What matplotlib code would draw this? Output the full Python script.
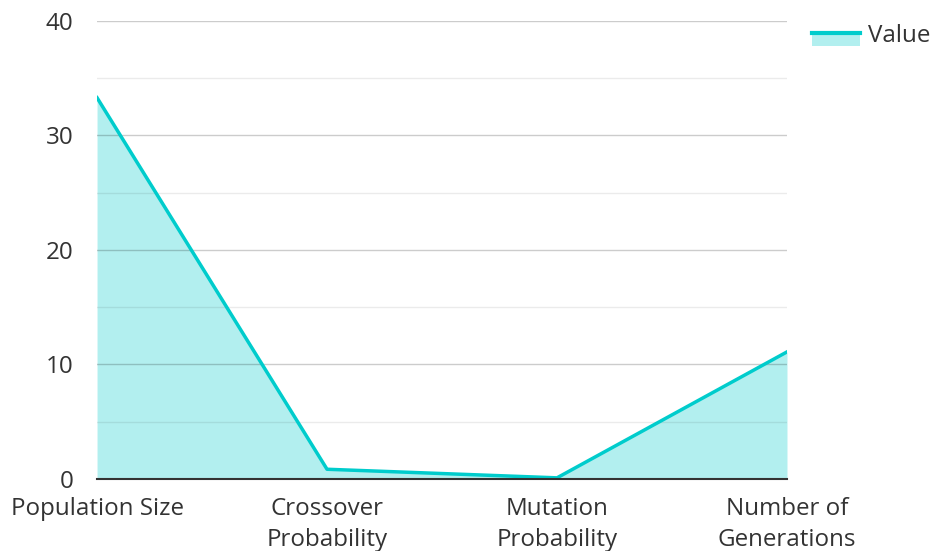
import matplotlib.pyplot as plt
from matplotlib.lines import Line2D
from matplotlib.patches import Rectangle
from matplotlib.legend_handler import HandlerBase

plt.rcParams['font.family'] = ['Open Sans', 'DejaVu Sans']

categories = ["Population Size", "Crossover\nProbability", "Mutation\nProbability", "Number of\nGenerations"]
values = [33.3, 0.85, 0.1, 11.1]

line_color = "#00CCCC"
fill_color = "#B2EFEF"
text_color = "#333333"
fs = 17.4


class AreaLineHandler(HandlerBase):
    # fill patch under a line, like the area legend key
    def create_artists(self, legend, orig_handle, xdescent, ydescent, width, height, fontsize, trans):
        mid = -ydescent + height * 0.5
        p = Rectangle((-xdescent, mid - height * 0.75), width, height * 0.75,
                      facecolor=fill_color, edgecolor="none", transform=trans)
        l = Line2D([-xdescent, -xdescent + width], [mid, mid], color=line_color,
                   linewidth=3, transform=trans)
        return [p, l]


fig = plt.figure(figsize=(9.34, 5.51), dpi=100)
ax = fig.add_axes([0.1039, 0.1307, 0.7387, 0.8312])

x = list(range(len(categories)))
ax.fill_between(x, values, 0, color=fill_color, linewidth=0, zorder=1)
ax.plot(x, values, color=line_color, linewidth=2.5, zorder=3)

ax.set_xlim(0, 3)
ax.set_ylim(0, 40)
ax.set_yticks([0, 10, 20, 30, 40])
ax.set_yticks([5, 15, 25, 35], minor=True)
ax.grid(axis="y", which="major", color="#000000", alpha=0.2, linewidth=1, zorder=2)
ax.grid(axis="y", which="minor", color="#000000", alpha=0.08, linewidth=1, zorder=2)
ax.set_axisbelow(False)

ax.set_xticks(x)
ax.set_xticklabels(categories, fontsize=fs, color=text_color, linespacing=1.38)
ax.tick_params(axis="y", which="both", length=0, pad=17, labelsize=fs, labelcolor=text_color)
ax.tick_params(axis="x", length=0, pad=13)

for s in ["top", "right", "left"]:
    ax.spines[s].set_visible(False)
ax.spines["bottom"].set_color(text_color)
ax.spines["bottom"].set_linewidth(1.5)
ax.spines["bottom"].set_zorder(4)

leg = fig.legend([object()], ["Value"], loc="upper left", bbox_to_anchor=(812 / 934, 1 - 23.5 / 551),
                 frameon=False, fontsize=fs, handlelength=2.0, handletextpad=0.33,
                 borderpad=0, borderaxespad=0, handler_map={object: AreaLineHandler()})
for t in leg.get_texts():
    t.set_color(text_color)

fig.savefig("out.png", dpi=100)
